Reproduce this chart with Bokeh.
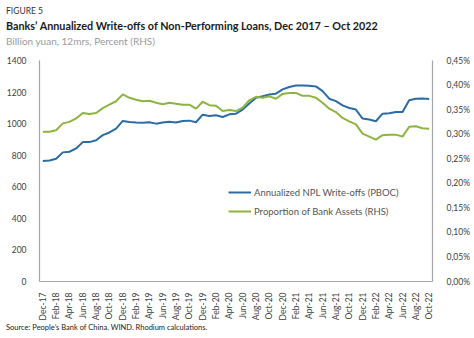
from bokeh.plotting import figure
from bokeh.models import (Range1d, LinearAxis, FixedTicker, CustomJSTickFormatter,
                          Legend, LegendItem, Div)
from bokeh.layouts import column
from bokeh.embed import file_html
from bokeh.resources import INLINE

# ---- data (Dec 2017 .. Oct 2022, monthly) ----
tick_labels = ["Dec-17", "Feb-18", "Apr-18", "Jun-18", "Aug-18", "Oct-18", "Dec-18",
               "Feb-19", "Apr-19", "Jun-19", "Aug-19", "Oct-19", "Dec-19", "Feb-20",
               "Apr-20", "Jun-20", "Aug-20", "Oct-20", "Dec-20", "Feb-21", "Apr-21",
               "Jun-21", "Aug-21", "Oct-21", "Dec-21", "Feb-22", "Apr-22", "Jun-22",
               "Aug-22", "Oct-22"]

npl_writeoffs = [763, 767, 778, 818, 822, 843, 883, 883, 895, 927, 944, 969, 1017,
                 1011, 1007, 1005, 1009, 1000, 1007, 1012, 1007, 1017, 1019, 1009,
                 1057, 1049, 1053, 1042, 1059, 1063, 1089, 1127, 1164, 1173, 1185,
                 1190, 1217, 1232, 1242, 1242, 1240, 1236, 1206, 1158, 1143, 1116,
                 1099, 1089, 1032, 1026, 1015, 1063, 1066, 1074, 1074, 1148, 1158,
                 1160, 1156]

share_assets = [0.305, 0.305, 0.308, 0.322, 0.325, 0.332, 0.343, 0.341, 0.343, 0.353,
                0.360, 0.367, 0.381, 0.374, 0.370, 0.367, 0.368, 0.364, 0.361, 0.364,
                0.362, 0.360, 0.360, 0.352, 0.366, 0.359, 0.358, 0.347, 0.349, 0.347,
                0.354, 0.369, 0.376, 0.374, 0.377, 0.372, 0.382, 0.384, 0.384, 0.378,
                0.378, 0.374, 0.364, 0.352, 0.345, 0.333, 0.326, 0.320, 0.301, 0.295,
                0.289, 0.298, 0.299, 0.299, 0.295, 0.315, 0.316, 0.312, 0.311]

figure_no = "FIGURE 5"
title = "Banks\u2019 Annualized Write-offs of Non-Performing Loans, Dec 2017 \u2013 Oct 2022"
subtitle = "Billion yuan, 12mrs, Percent (RHS)"
source = "Source: People\u2019s Bank of China. WIND. Rhodium calculations."

x = list(range(len(npl_writeoffs)))

FONT = "Lato"
BLUE = "#2c6ca4"
GREEN = "#8cb43f"
AXIS = "#a6a6a6"
TXT = "#404040"

HEAD_H = 52
FOOT_H = 15
FIG_H = 338 - HEAD_H - FOOT_H

p = figure(width=474, height=FIG_H, output_backend="svg", toolbar_location=None,
           min_border_left=39, min_border_right=42, min_border_top=60 - HEAD_H,
           min_border_bottom=FIG_H - (282 - HEAD_H), x_range=Range1d(-0.5, len(x) - 0.5),
           y_range=Range1d(0, 1400), outline_line_color=None, margin=(0, 0, 0, 0))
p.extra_y_ranges = {"pct": Range1d(0, 0.45)}
p.xgrid.visible = False
p.ygrid.visible = False

l1 = p.line(x, npl_writeoffs, color=BLUE, line_width=2)
l2 = p.line(x, share_assets, color=GREEN, line_width=2, y_range_name="pct")

xa = p.xaxis[0]
xa.ticker = FixedTicker(ticks=list(range(0, len(x), 2)))
xa.major_label_overrides = {i * 2: lab for i, lab in enumerate(tick_labels)}
xa.major_label_orientation = 3.14159265 / 2

ya = p.yaxis[0]
ya.ticker = FixedTicker(ticks=[0, 200, 400, 600, 800, 1000, 1200, 1400])

ra = LinearAxis(y_range_name="pct",
                ticker=FixedTicker(ticks=[0, 0.05, 0.1, 0.15, 0.2, 0.25, 0.3, 0.35, 0.4, 0.45]),
                formatter=CustomJSTickFormatter(code="return tick.toFixed(2).replace('.', ',') + '%';"))
p.add_layout(ra, "right")

for ax in (xa, ya, ra):
    ax.axis_line_color = AXIS
    ax.axis_line_width = 1.2
    ax.major_tick_line_color = None
    ax.minor_tick_line_color = None
    ax.major_label_text_font = FONT
    ax.major_label_text_font_size = "8.5px"
    ax.major_label_text_color = TXT
xa.major_label_standoff = 5
ya.major_label_standoff = 7
ra.major_label_standoff = 8

legend = Legend(items=[LegendItem(label="Annualized NPL Write-offs (PBOC)", renderers=[l1]),
                       LegendItem(label="Proportion of Bank Assets (RHS)", renderers=[l2])],
                location=(189, 62), border_line_color=None, background_fill_alpha=0,
                padding=0, margin=0, spacing=3, glyph_width=23, glyph_height=16,
                label_height=16, label_standoff=3, label_text_font=FONT,
                label_text_font_size="9.5px", label_text_color="#555555")
p.add_layout(legend)

def line_html(txt, top, size, color, weight="normal"):
    return (f'<div style="position:absolute;left:6px;top:{top}px;font-size:{size}px;'
            f'line-height:{size + 2}px;color:{color};font-weight:{weight};'
            f'white-space:nowrap;font-family:{FONT};">{txt}</div>')

head = Div(text=('<div style="position:relative;width:474px;height:52px;">'
                 + line_html(figure_no, 6, 8.5, "#333333")
                 + line_html(title, 19.5, 10.8, "#1a1a1a", "bold")
                 + line_html(subtitle, 35, 10, "#9a9a9a")
                 + '</div>'),
           width=474, height=HEAD_H, margin=(0, 0, 0, 0))
foot = Div(text=('<div style="position:relative;width:474px;height:15px;">'
                 + line_html(source, 0, 7.5, "#222222")
                 + '</div>'),
           width=474, height=FOOT_H, margin=(0, 0, 0, 0))

layout = column(head, p, foot, spacing=0, margin=(0, 0, 0, 0))
open("out.html", "w").write(file_html(layout, INLINE))
